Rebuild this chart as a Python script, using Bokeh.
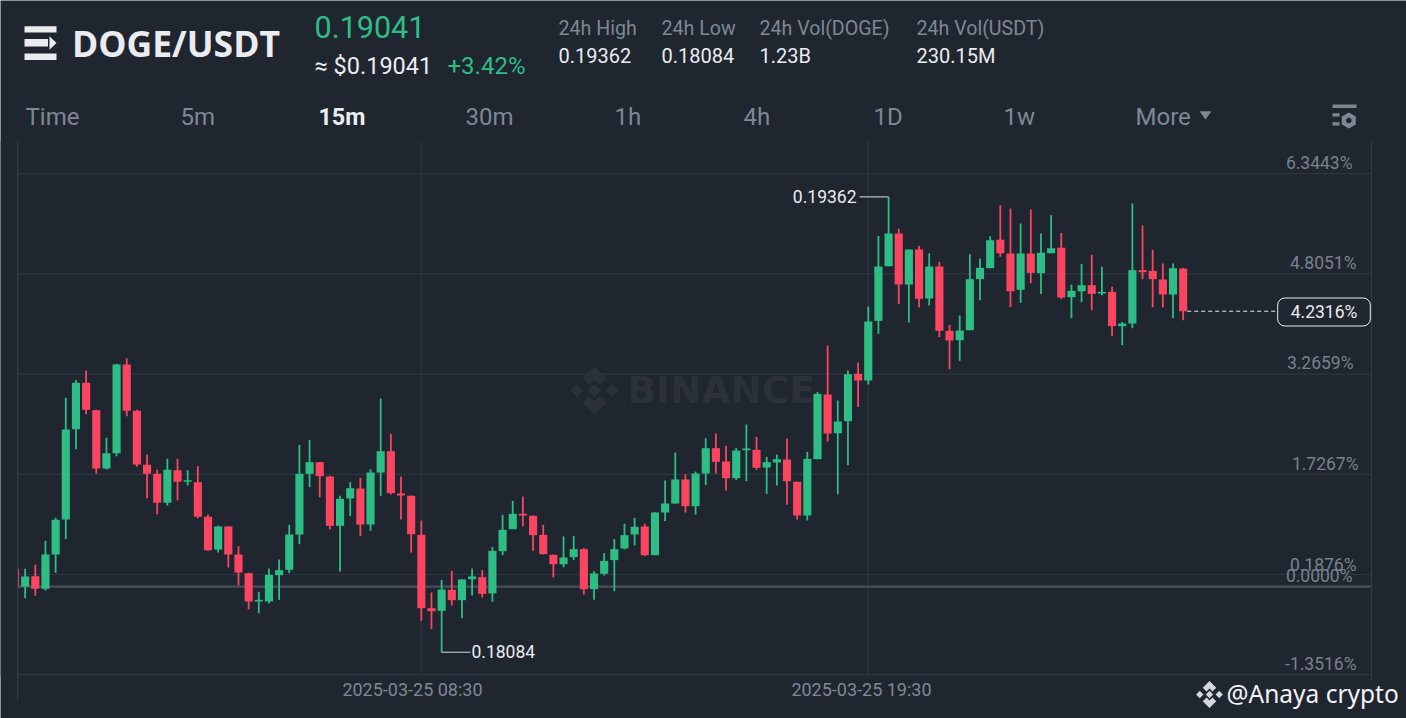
from bokeh.plotting import figure
from bokeh.models import ColumnDataSource, Range1d, Label, PolyAnnotation, FixedTicker, LinearAxis
from bokeh.embed import file_html
from bokeh.resources import INLINE

# ---- data: percent change from the reference price, per 15m candle ----
opens = [.274,.003,.162,-.033,.495,1.032,2.420,3.131,2.712,1.816,2.051,3.413,2.701,1.872,1.734,1.288,1.790,1.611,1.606,1.073,
 .571,.925,.495,.208,-.227,-.227,.177,.259,.802,1.734,1.913,1.693,.935,1.355,1.508,.955,1.754,2.082,1.432,1.396,
 .797,-.330,-.371,-.048,-.207,.116,.146,-.104,.546,.884,1.119,1.089,.797,.489,.346,.454,.577,-.038,.198,.408,
 .587,.802,.925,.484,1.140,1.278,1.647,1.237,1.739,2.128,1.923,1.667,2.097,2.102,1.831,1.908,1.954,1.611,1.094,1.959,
 2.952,2.358,2.543,3.270,3.167,4.084,4.923,5.425,4.642,5.179,4.427,4.918,3.930,3.787,3.940,4.724,4.893,5.328,5.118,4.560,
 5.118,4.816,5.123,5.205,4.447,4.539,4.632,4.504,4.529,4.002,4.043,4.862,4.852,4.719,4.488,4.888]
highs = [.274,.274,.336,.705,1.058,2.901,3.177,3.321,2.717,2.287,3.423,3.510,2.717,2.031,1.795,1.964,1.964,1.790,1.851,1.109,
 .935,.925,.623,.213,-.079,.280,.418,.950,2.179,2.256,1.913,1.703,1.396,1.606,1.672,1.805,2.891,2.348,1.693,1.401,
 1.017,-.089,.105,.244,.116,.280,.254,.612,1.104,1.319,1.385,1.094,.950,.495,.771,.781,.592,.239,.515,.730,
 .966,1.058,.966,1.145,1.631,2.061,1.729,1.769,2.281,2.353,2.164,2.133,2.491,2.302,1.995,2.031,2.276,1.616,2.072,2.993,
 3.705,2.860,3.321,3.444,4.304,5.389,5.989,5.497,5.179,5.236,5.118,4.990,4.022,4.166,5.108,5.041,5.384,5.860,5.809,5.579,
 5.794,5.425,5.707,5.435,4.642,4.959,5.098,4.913,4.606,4.068,5.886,5.548,5.174,4.964,4.964,4.898]
lows = [0,-.176,-.140,-.058,.213,.730,2.113,2.650,1.739,1.800,2.005,2.619,1.841,1.360,1.114,1.247,1.329,1.554,1.053,.551,
 .525,.295,.018,-.350,-.407,-.258,-.202,.208,.653,1.529,1.375,.879,.233,1.083,.776,.858,1.396,1.416,1.032,.525,
 -.524,-.652,-1.007,-.289,-.483,-.135,-.166,-.232,.484,.884,.930,.551,.495,.141,.300,.408,-.120,-.202,.172,-.069,
 .571,.633,.469,.484,1.007,1.278,1.140,1.109,1.560,1.739,1.478,1.636,1.621,1.795,1.426,1.554,1.257,1.032,1.017,1.959,
 2.230,1.421,1.867,2.763,3.106,3.884,4.923,4.340,4.058,4.289,4.319,3.833,3.341,3.469,3.940,4.401,4.893,5.067,4.294,4.360,
 4.662,4.498,5.123,4.417,4.125,4.371,4.248,4.478,3.848,3.710,3.971,4.724,4.294,4.289,4.125,4.094]
closes = [0,.157,-.033,.495,1.027,2.415,3.131,2.717,1.816,2.051,3.413,2.701,1.877,1.734,1.288,1.795,1.611,1.636,1.073,.561,
 .925,.495,.218,-.227,-.202,.182,.254,.802,1.734,1.913,1.698,.935,1.350,1.513,.955,1.754,2.082,1.437,1.401,.807,
 -.330,-.376,-.043,-.207,.111,.157,-.110,.551,.873,1.119,1.094,.792,.500,.346,.449,.577,-.038,.203,.397,.577,
 .792,.920,.484,1.140,1.278,1.647,1.237,1.739,2.128,1.918,1.667,2.092,2.123,1.826,1.913,1.959,1.621,1.094,1.964,2.962,
 2.353,2.537,3.264,3.167,4.073,4.918,5.425,4.642,5.179,4.422,4.918,3.930,3.782,3.935,4.724,4.898,5.323,5.123,4.539,5.118,
 4.821,5.128,5.200,4.442,4.545,4.632,4.498,4.529,4.002,4.043,4.862,4.831,4.724,4.488,4.893,4.2316]

grid_values = [6.3443, 4.8051, 3.2659, 1.7267, 0.1876, -1.3516]
pct_labels = ["6.3443%", "4.8051%", "3.2659%", "1.7267%", "0.1876%", "0.0000%", "-1.3516%"]
time_grid = [40, 84]
time_labels = {39.13: "2025-03-25 08:30", 83.33: "2025-03-25 19:30"}
stats = [("24h High", "0.19362"), ("24h Low", "0.18084"), ("24h Vol(DOGE)", "1.23B"), ("24h Vol(USDT)", "230.15M")]
tabs = ["Time", "5m", "15m", "30m", "1h", "4h", "1D", "1w", "More"]
pair, last_price, usd_price, change = "DOGE/USDT", "0.19041", "≈ $0.19041", "+3.42%"
high_label, low_label, last_pct = "0.19362", "0.18084", "4.2316%"
high_i, low_i, last_i = 86, 42, 115

# ---- style ----
BG, GREEN, RED = "#1F2630", "#2EBD85", "#FB4560"
WHITE, GRAY, DIM = "#EAECEF", "#7F8793", "#7A818C"
GRID, ZERO, EDGE = "#2F3540", "#4A4F5A", "#343A45"
FONT = "Roboto"

W, H = 1406, 718
L, R, T, B = 17, 1371, 141, 675   # chart box in page pixels
x0, dx = 14.5, 10.158
y0, dy = 586.2, 65.1


def xv(px):
    return (px - x0) / dx


def yv(py):
    return (y0 - py) / dy


p = figure(width=W, height=H, output_backend="svg", toolbar_location=None,
           x_range=Range1d(xv(0), xv(W)), y_range=Range1d(yv(H), yv(0)),
           x_axis_type=None, y_axis_type=None,
           min_border_left=0, min_border_right=0, min_border_top=0, min_border_bottom=0,
           background_fill_color=BG, border_fill_color=BG, outline_line_color=None)

# grid lines stop at the chart box, so they are drawn as segments in data space
p.segment(time_grid, yv(B), time_grid, yv(T), line_color=GRID, line_width=1.2, level="underlay")
p.segment(xv(L), grid_values, xv(R), grid_values, line_color=GRID, line_width=1.2, level="underlay")

axis = LinearAxis(ticker=FixedTicker(ticks=list(time_labels)), major_label_overrides=time_labels,
                  fixed_location=yv(B), axis_line_color=None, major_tick_line_color=None,
                  minor_tick_line_color=None, major_tick_out=0, major_tick_in=0,
                  major_label_text_color=GRAY, major_label_text_font=FONT,
                  major_label_text_font_size="18px", major_label_standoff=3)
p.add_layout(axis, "below")


def text(x, y, s, color=WHITE, size=20, align="left", style="normal", font=FONT, level="annotation", **kw):
    if align == "left":
        x -= 1
    p.add_layout(Label(x=x, y=H - y + 1, x_units="screen", y_units="screen", text=s, text_color=color,
                       text_font_size=f"{size}px", text_align=align, text_baseline="middle",
                       text_font_style=style, text_font=font, level=level, **kw))


def poly(xs, ys, color, level="annotation"):
    p.add_layout(PolyAnnotation(xs=list(xs), ys=[H - v for v in ys], xs_units="screen", ys_units="screen",
                                fill_color=color, fill_alpha=1, line_color=None, level=level))


def rect(x1, y1, x2, y2, color, level="annotation"):
    poly([x1, x2, x2, x1], [y1, y1, y2, y2], color, level)


def logo(cx, cy, r, color, level="annotation"):
    a = [(0, .27), (.27, 0), (0, -.27), (-.27, 0)]
    poly([cx + r * u for u, v in a], [cy + r * v for u, v in a], color, level)
    poly([cx + r * (u - .72) for u, v in a], [cy + r * v for u, v in a], color, level)
    poly([cx + r * (u + .72) for u, v in a], [cy + r * v for u, v in a], color, level)
    c = [(0, 1), (.5, .5), (.22, .22), (0, .44), (-.22, .22), (-.5, .5)]
    poly([cx + r * u for u, v in c], [cy - r * v for u, v in c], color, level)
    poly([cx + r * u for u, v in c], [cy + r * v for u, v in c], color, level)


# ---- watermark ----
logo(594, 390, 24.5, "#2B303B", "underlay")
text(628, 390, "BINANCE", "#2B303B", 37.5, style="bold", font="DejaVu Sans", level="underlay")

# ---- zero line ----
p.line([xv(L), xv(R)], [0, 0], line_color=ZERO, line_width=2.2)

# ---- candles ----
idx = list(range(len(opens)))
src = ColumnDataSource(dict(
    x=idx, open=opens, high=highs, low=lows, close=closes,
    top=[max(a, b) for a, b in zip(opens, closes)],
    bottom=[min(a, b) for a, b in zip(opens, closes)],
    color=[GREEN if c >= o else RED for o, c in zip(opens, closes)]))
p.segment("x", "high", "x", "low", source=src, line_color="color", line_width=1.8)
p.vbar("x", 0.8, "bottom", "top", source=src, fill_color="color", line_color=None)

# the first candle is cut by the chart's left edge
rect(0, T, L, B, BG)

# ---- chart edge lines ----
rect(16.5, T, 17.8, 700, EDGE)
rect(R - .6, T, R + .7, 680, EDGE)

# ---- high / low / last markers ----
p.line([high_i, high_i - 2.85], [highs[high_i]] * 2, line_color="#B7BDC6", line_width=1.2)
p.line([low_i, low_i + 2.85], [lows[low_i]] * 2, line_color="#B7BDC6", line_width=1.2)
text(856, 197, high_label, WHITE, 17.5, "right")
text(472, 652, low_label, WHITE, 17.5)
p.line([last_i + .4, 124.4], [closes[last_i]] * 2, line_color=WHITE, line_width=1, line_dash=[4, 3])

# ---- percent labels ----
pct_pos = [(1352, 163), (1356, 263), (1353, 363), (1358, 464), (1356, 565), (1352, 576), (1356, 664)]
for s, (x, y) in zip(pct_labels, pct_pos):
    text(x, y, s, DIM, 17.5, "right")
text(1323.5, 312.5, last_pct, WHITE, 17.5, "center", border_line_color=WHITE, border_line_width=1,
     background_fill_color=BG, padding=(13, 4), border_radius=7)

# ---- header ----
rect(24, 25.7, 56, 32, WHITE)
rect(24, 38.6, 47.5, 46, WHITE)
rect(24, 53, 56, 59.5, WHITE)
poly([49, 56, 49], [35.7, 42.5, 49.3], WHITE)
text(72.5, 43.5, pair, WHITE, 35.5, style="bold", font="Open Sans")
text(315, 27, last_price, GREEN, 30.5)
text(315, 66, usd_price, WHITE, 23.5)
text(448, 66, change, GREEN, 24)
for (a, b), x in zip(stats, [559, 662, 760, 917]):
    text(x, 29, a, GRAY, 19.6)
    text(x, 56, b, WHITE, 20)
for s, x in zip(tabs, [26, 181, 319, 466, 615, 744, 874, 1004, 1136]):
    sel = s == "15m"
    text(x, 117, s, WHITE if sel else GRAY, 23.3 if sel else 24, style="bold" if sel else "normal")
poly([1199, 1211, 1205], [110.7, 110.7, 119], GRAY)

# settings icon
rect(1332, 104, 1356, 107.5, GRAY)
rect(1332, 112.7, 1339, 116, GRAY)
rect(1332, 121.7, 1339, 125, GRAY)
poly([1348.3, 1355.3, 1355.3, 1348.3, 1341.3, 1341.3], [112, 116, 124, 128, 124, 116], GRAY)
poly([1348.3, 1351, 1351, 1348.3, 1345.6, 1345.6], [117, 118.5, 121.5, 123, 121.5, 118.5], BG)

# ---- bottom-right credit ----
logo(1209, 694, 13.5, "#D5D7DB")
text(1227, 694, "@Anaya crypto", "#F2F3F5", 24.5, font="Noto Sans")

open("out.html", "w").write(file_html(p, INLINE))
